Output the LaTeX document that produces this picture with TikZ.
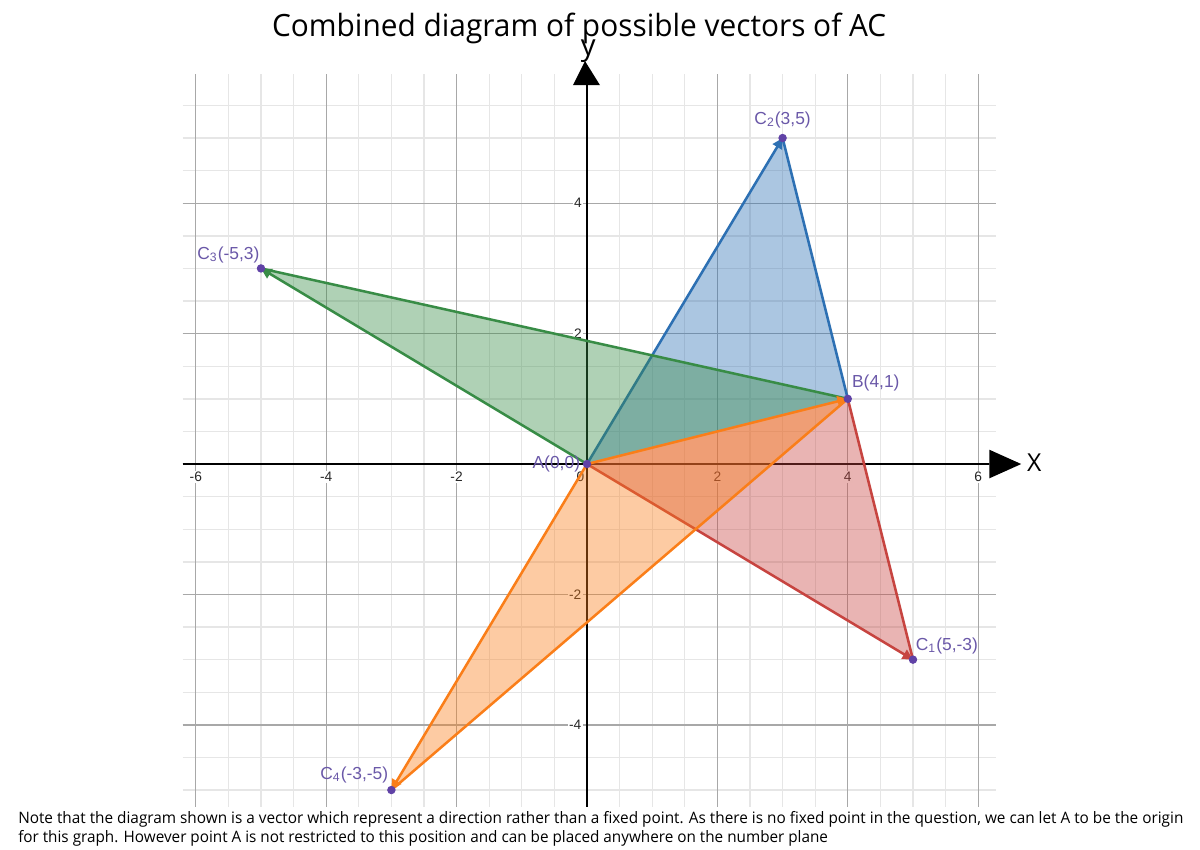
\documentclass[tikz,border=0pt]{standalone}
\usepackage{fontspec}
\setmainfont{Liberation Sans}
\newfontfamily\titlefont{Open Sans}
\usetikzlibrary{arrows.meta,calc}
\definecolor{dred}{HTML}{C74440}
\definecolor{dblue}{HTML}{2D70B3}
\definecolor{dgreen}{HTML}{388C46}
\definecolor{dorange}{HTML}{FA7E19}
\definecolor{dpurple}{HTML}{6042A6}
\definecolor{lblpurple}{HTML}{6A58A8}
\definecolor{minorgray}{HTML}{E6E6E6}
\definecolor{majorgray}{HTML}{A8A8A8}
\tikzset{
 minorgrid/.style={draw=minorgray, line width=0.6pt},
 majorgrid/.style={draw=majorgray, line width=0.6pt},
 vec/.style={line width=1.1pt, line cap=round, line join=round},
 vecarrow/.style={vec, -{Triangle[length=1.6mm,width=1.6mm]}},
 region/.style={fill opacity=0.4},
 dot/.style={circle, fill=dpurple, inner sep=0pt, minimum size=1.3mm},
 ptlabel/.style={text=lblpurple, font=\fontsize{7.6}{8}\selectfont, inner sep=0pt},
 ticklabel/.style={text=black!85, fill=white, font=\fontsize{6}{7}\selectfont, inner sep=0.6pt},
 axishead/.style={fill=black, draw=none},
}
\begin{document}
\begin{tikzpicture}[x=1cm,y=1cm]
\useasboundingbox (-9.003,-5.905) rectangle (9.402,7.117);
% grid
\draw[minorgrid, step=0.5] (-6.2,-5.26) grid (6.28,5.98);
\draw[majorgrid, step=2] (-6.2,-5.26) grid (6.28,5.98);
% tick labels
\foreach \v in {-6,-4,-2,2,4,6} \node[ticklabel] (tx\v) at (\v,-0.2) {\v};
\node[ticklabel, fill=none] (tx0) at (-0.1,-0.2) {0};
\foreach \v in {2,4} \node[ticklabel] (ty\v) at (-0.14,\v) {\v};
\foreach \v in {-2,-4} \node[ticklabel] (ty\v) at (-0.18,\v) {\v};
% axes
\coordinate (xl) at (-6.2,0);
\coordinate (xr) at (6.17,0);
\coordinate (yb) at (0,-5.26);
\coordinate (yt) at (0,5.81);
\draw[line width=1.2pt] (xl) -- (xr);
\draw[line width=0.9pt] (yb) -- (yt);
\fill[axishead] (6.17,0.22) -- (6.66,0) -- (6.17,-0.22) -- cycle;
\fill[axishead] (-0.215,5.81) -- (-0.03,6.18) -- (0.2,5.81) -- cycle;
\node[anchor=base, font=\titlefont\fontsize{10.8}{12}\selectfont] (xlab) at (6.86,-0.12) {X};
\node[anchor=base, font=\titlefont\fontsize{12.8}{14}\selectfont, inner sep=0pt] (ylab) at (0.02,6.26) {y};
% title
\node[anchor=base, inner sep=0pt] (title) at (-0.12,6.56) {\resizebox{9.42cm}{0.36cm}{\titlefont Combined diagram of possible vectors of AC}};
% points
\coordinate (A) at (0,0);
\coordinate (B) at (4,1);
\coordinate (C1) at (5,-3);
\coordinate (C2) at (3,5);
\coordinate (C3) at (-5,3);
\coordinate (C4) at (-3,-5);
% red
\fill[region, dred] (A) -- (B) -- (C1) -- cycle;
\draw[vec, dred] (B) -- (C1);
\draw[vecarrow, dred] (A) -- (C1);
% blue
\fill[region, dblue] (A) -- (B) -- (C2) -- cycle;
\draw[vec, dblue] (B) -- (C2);
\draw[vecarrow, dblue] (A) -- (C2);
% green
\fill[region, dgreen] (A) -- (B) -- (C3) -- cycle;
\draw[vec, dgreen] (B) -- (C3);
\draw[vecarrow, dgreen] (A) -- (C3);
% orange
\fill[region, dorange] (A) -- (B) -- (C4) -- cycle;
\draw[vec, dorange] (B) -- (C4);
\draw[vecarrow, dorange] (A) -- (C4);
\draw[vecarrow, dorange] (A) -- (B);
% dots
\foreach \p in {A,B,C1,C2,C3,C4} \node[dot] (d\p) at (\p) {};
% point labels
\node[ptlabel] (lA) at ($(A)+(-0.47,0)$) {A(0,0)};
\node[ptlabel] (lB) at ($(B)+(0.43,0.25)$) {B(4,1)};
\node[ptlabel] (lC1) at ($(C1)+(0.52,0.21)$) {C\textsubscript{1}(5,-3)};
\node[ptlabel] (lC2) at ($(C2)+(0,0.28)$) {C\textsubscript{2}(3,5)};
\node[ptlabel] (lC3) at ($(C3)+(-0.5,0.21)$) {C\textsubscript{3}(-5,3)};
\node[ptlabel] (lC4) at ($(C4)+(-0.57,0.23)$) {C\textsubscript{4}(-3,-5)};
% note
\node[anchor=base west, inner sep=0pt] (note1) at (-8.73,-5.52) {\resizebox{17.87cm}{0.185cm}{\titlefont Note that the diagram shown is a vector which represent a direction rather than a fixed point. As there is no fixed point in the question, we can let A to be the origin}};
\node[anchor=base west, inner sep=0pt] (note2) at (-8.73,-5.81) {\resizebox{12.42cm}{0.185cm}{\titlefont for this graph. However point A is not restricted to this position and can be placed anywhere on the number plane}};
\end{tikzpicture}
\end{document}
